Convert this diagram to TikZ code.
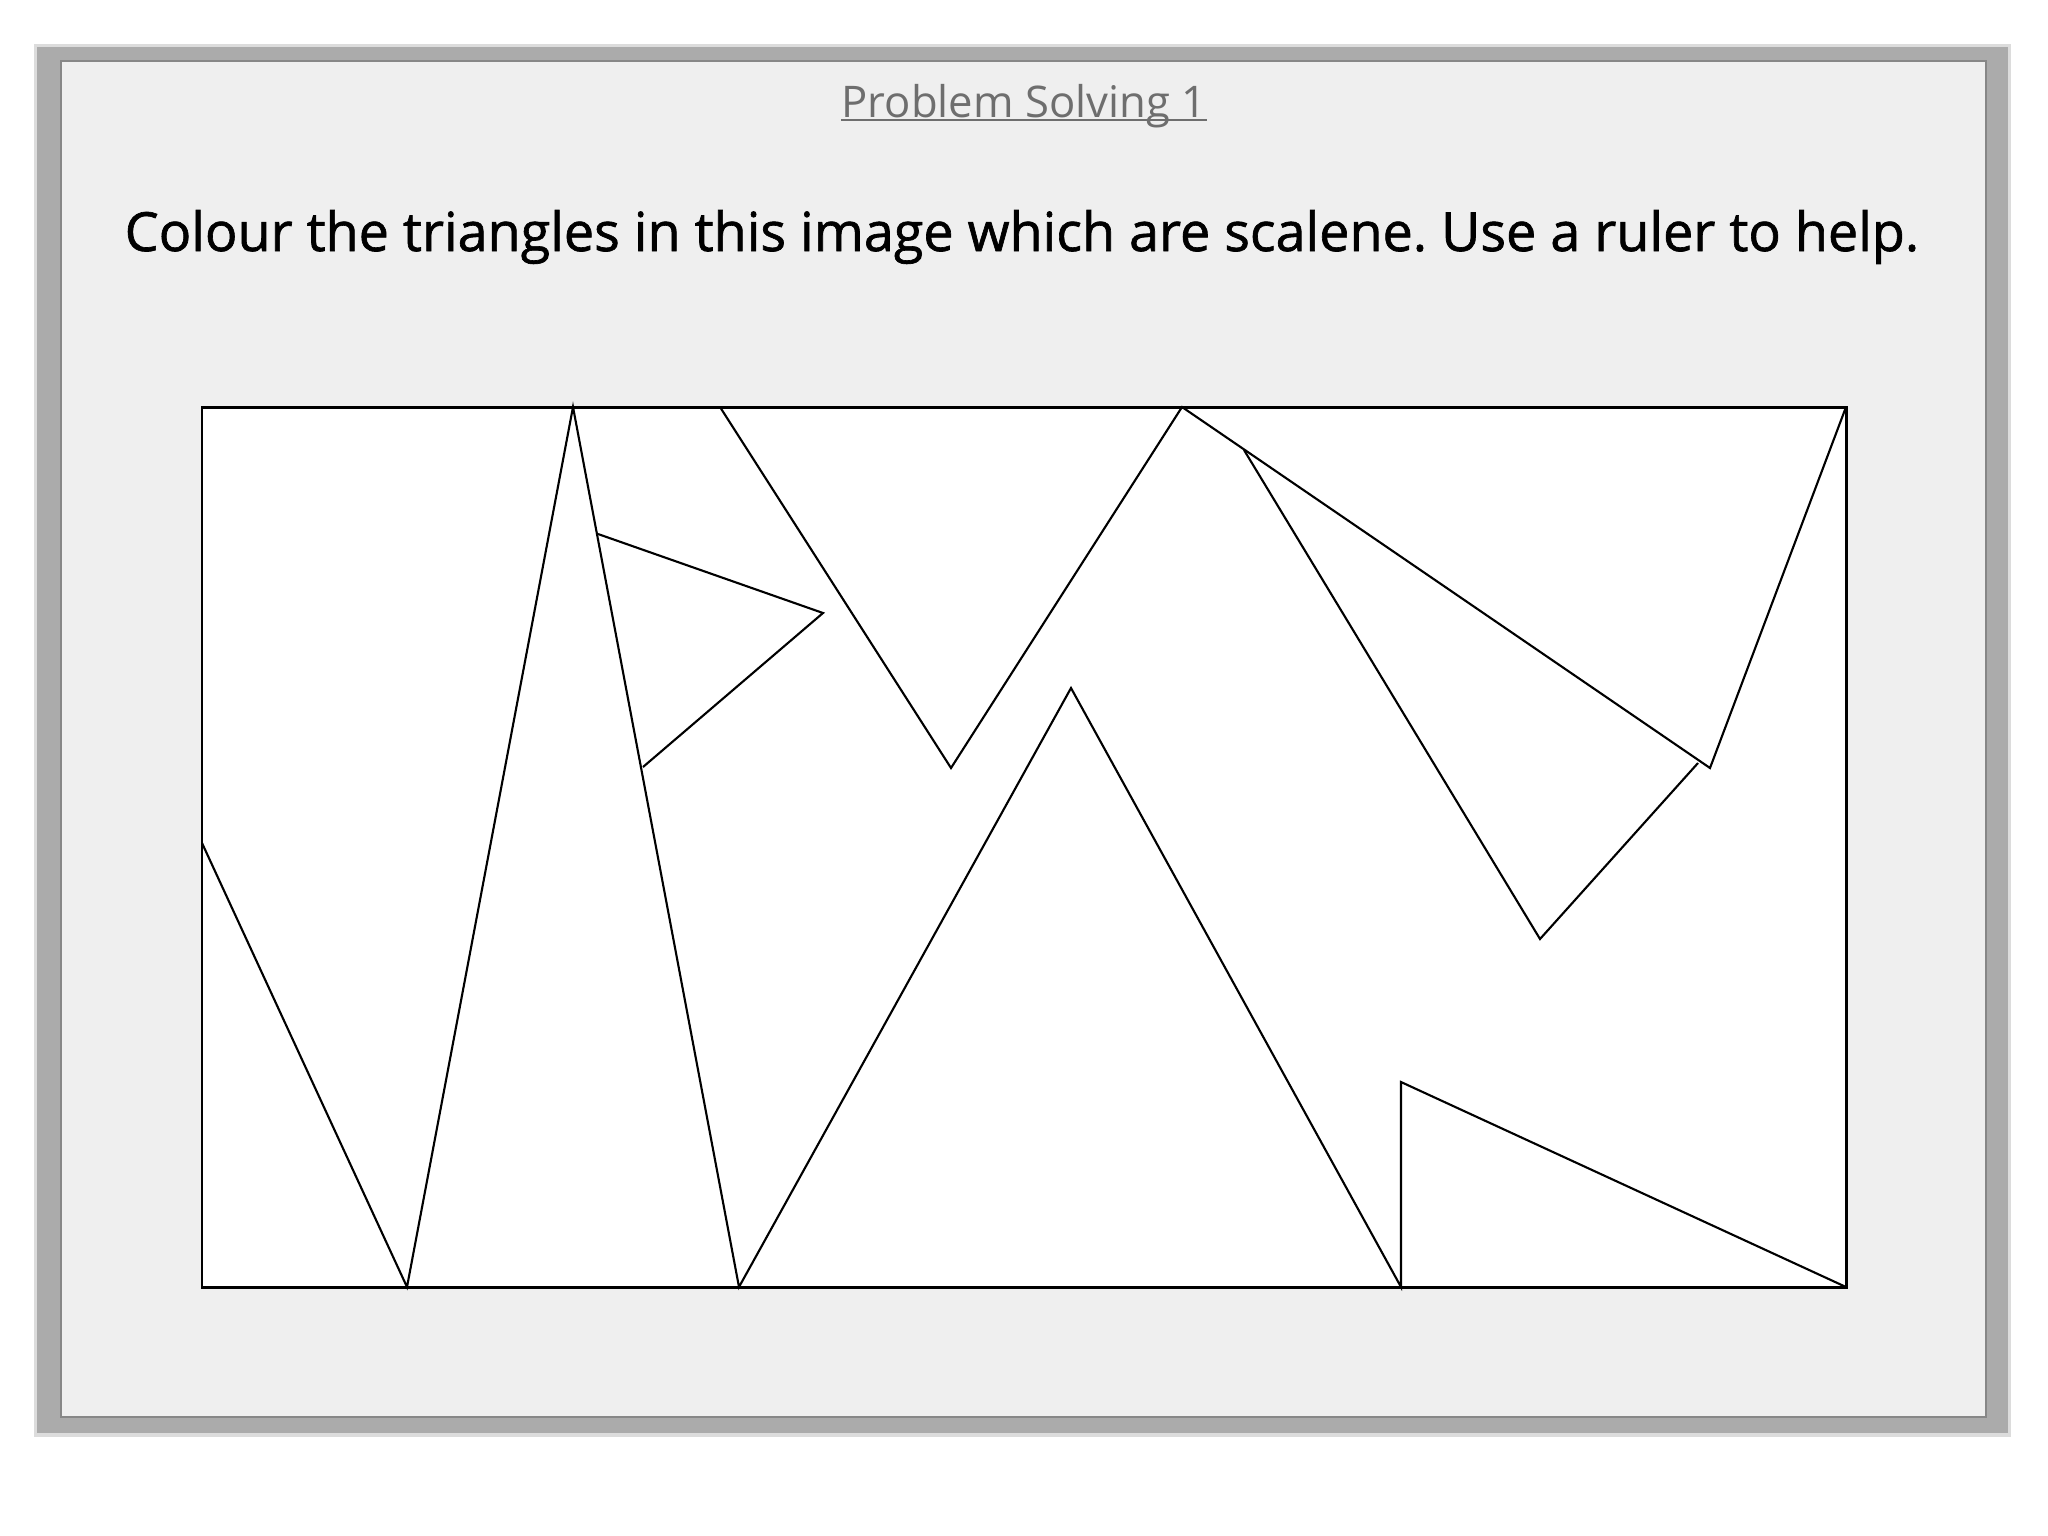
\documentclass[tikz,border=0pt]{standalone}
\usepackage{fontspec}
\setmainfont{Open Sans}
\newfontfamily\taskfont[FakeBold=1.2]{Open Sans}
\usetikzlibrary{positioning}
\definecolor{shadowgray}{HTML}{DCDCDC}
\definecolor{framegray}{HTML}{ABABAB}
\definecolor{edgegray}{HTML}{878787}
\definecolor{panelgray}{HTML}{EFEFEF}
\definecolor{titlegray}{HTML}{6E6E6E}
\tikzset{
  titletext/.style={anchor=base, inner sep=0pt, text=titlegray, font=\fontsize{12.4}{15}\selectfont},
  tasktext/.style={anchor=base, inner sep=0pt, text=black, font=\taskfont\fontsize{15.33}{18}\selectfont},
  edge/.style={black, line width=0.6pt},
}
\frenchspacing
\begin{document}
\begin{tikzpicture}[x=0.01cm,y=-0.01cm]
\useasboundingbox[fill=white] (0,0) rectangle (2048,1536);
% frame
\fill[shadowgray] (34,44) rectangle (2011,1437);
\fill[framegray] (37,47) rectangle (2008,1433);
\filldraw[fill=panelgray, draw=edgegray, line width=0.7pt] (61,61) rectangle (1986,1417);
% texts
\node[titletext] (title) at (1024,117) {Problem Solving 1};
\draw[titlegray, line width=0.7pt] ([yshift=-0.9pt]title.base west) -- ([yshift=-0.9pt]title.base east);
\node[tasktext] (task) at (1022,251) {Colour the triangles in this image which are scalene. Use a ruler to help.};
% picture
\coordinate (tl) at (202,407);
\coordinate (br) at (1846,1287);
\filldraw[fill=white, draw=black, line width=0.85pt] (tl) rectangle (br);
\coordinate (l1) at (202,843);
\coordinate (b1) at (407,1287);
\coordinate (t1) at (573,407);
\coordinate (b2) at (739,1287);
\coordinate (m1) at (598,534);
\coordinate (m2) at (823,613);
\coordinate (m3) at (643,767);
\coordinate (t2) at (720,407);
\coordinate (v1) at (951,768);
\coordinate (t3) at (1182,407);
\coordinate (p1) at (1071,688);
\coordinate (b3) at (1401,1287);
\coordinate (q1) at (1401,1082);
\coordinate (k1) at (1244,450);
\coordinate (k2) at (1710,768);
\coordinate (k3) at (1698,763);
\coordinate (k4) at (1540,939);
\coordinate (t4) at (1846,407);
\draw[edge] (l1) -- (b1) -- (t1) -- (b2) -- (p1) -- (b3) -- (q1) -- (br);
\draw[edge] (m1) -- (m2) -- (m3);
\draw[edge] (t2) -- (v1) -- (t3) -- (k2) -- (t4);
\draw[edge] (k1) -- (k4) -- (k3);
\end{tikzpicture}
\end{document}
